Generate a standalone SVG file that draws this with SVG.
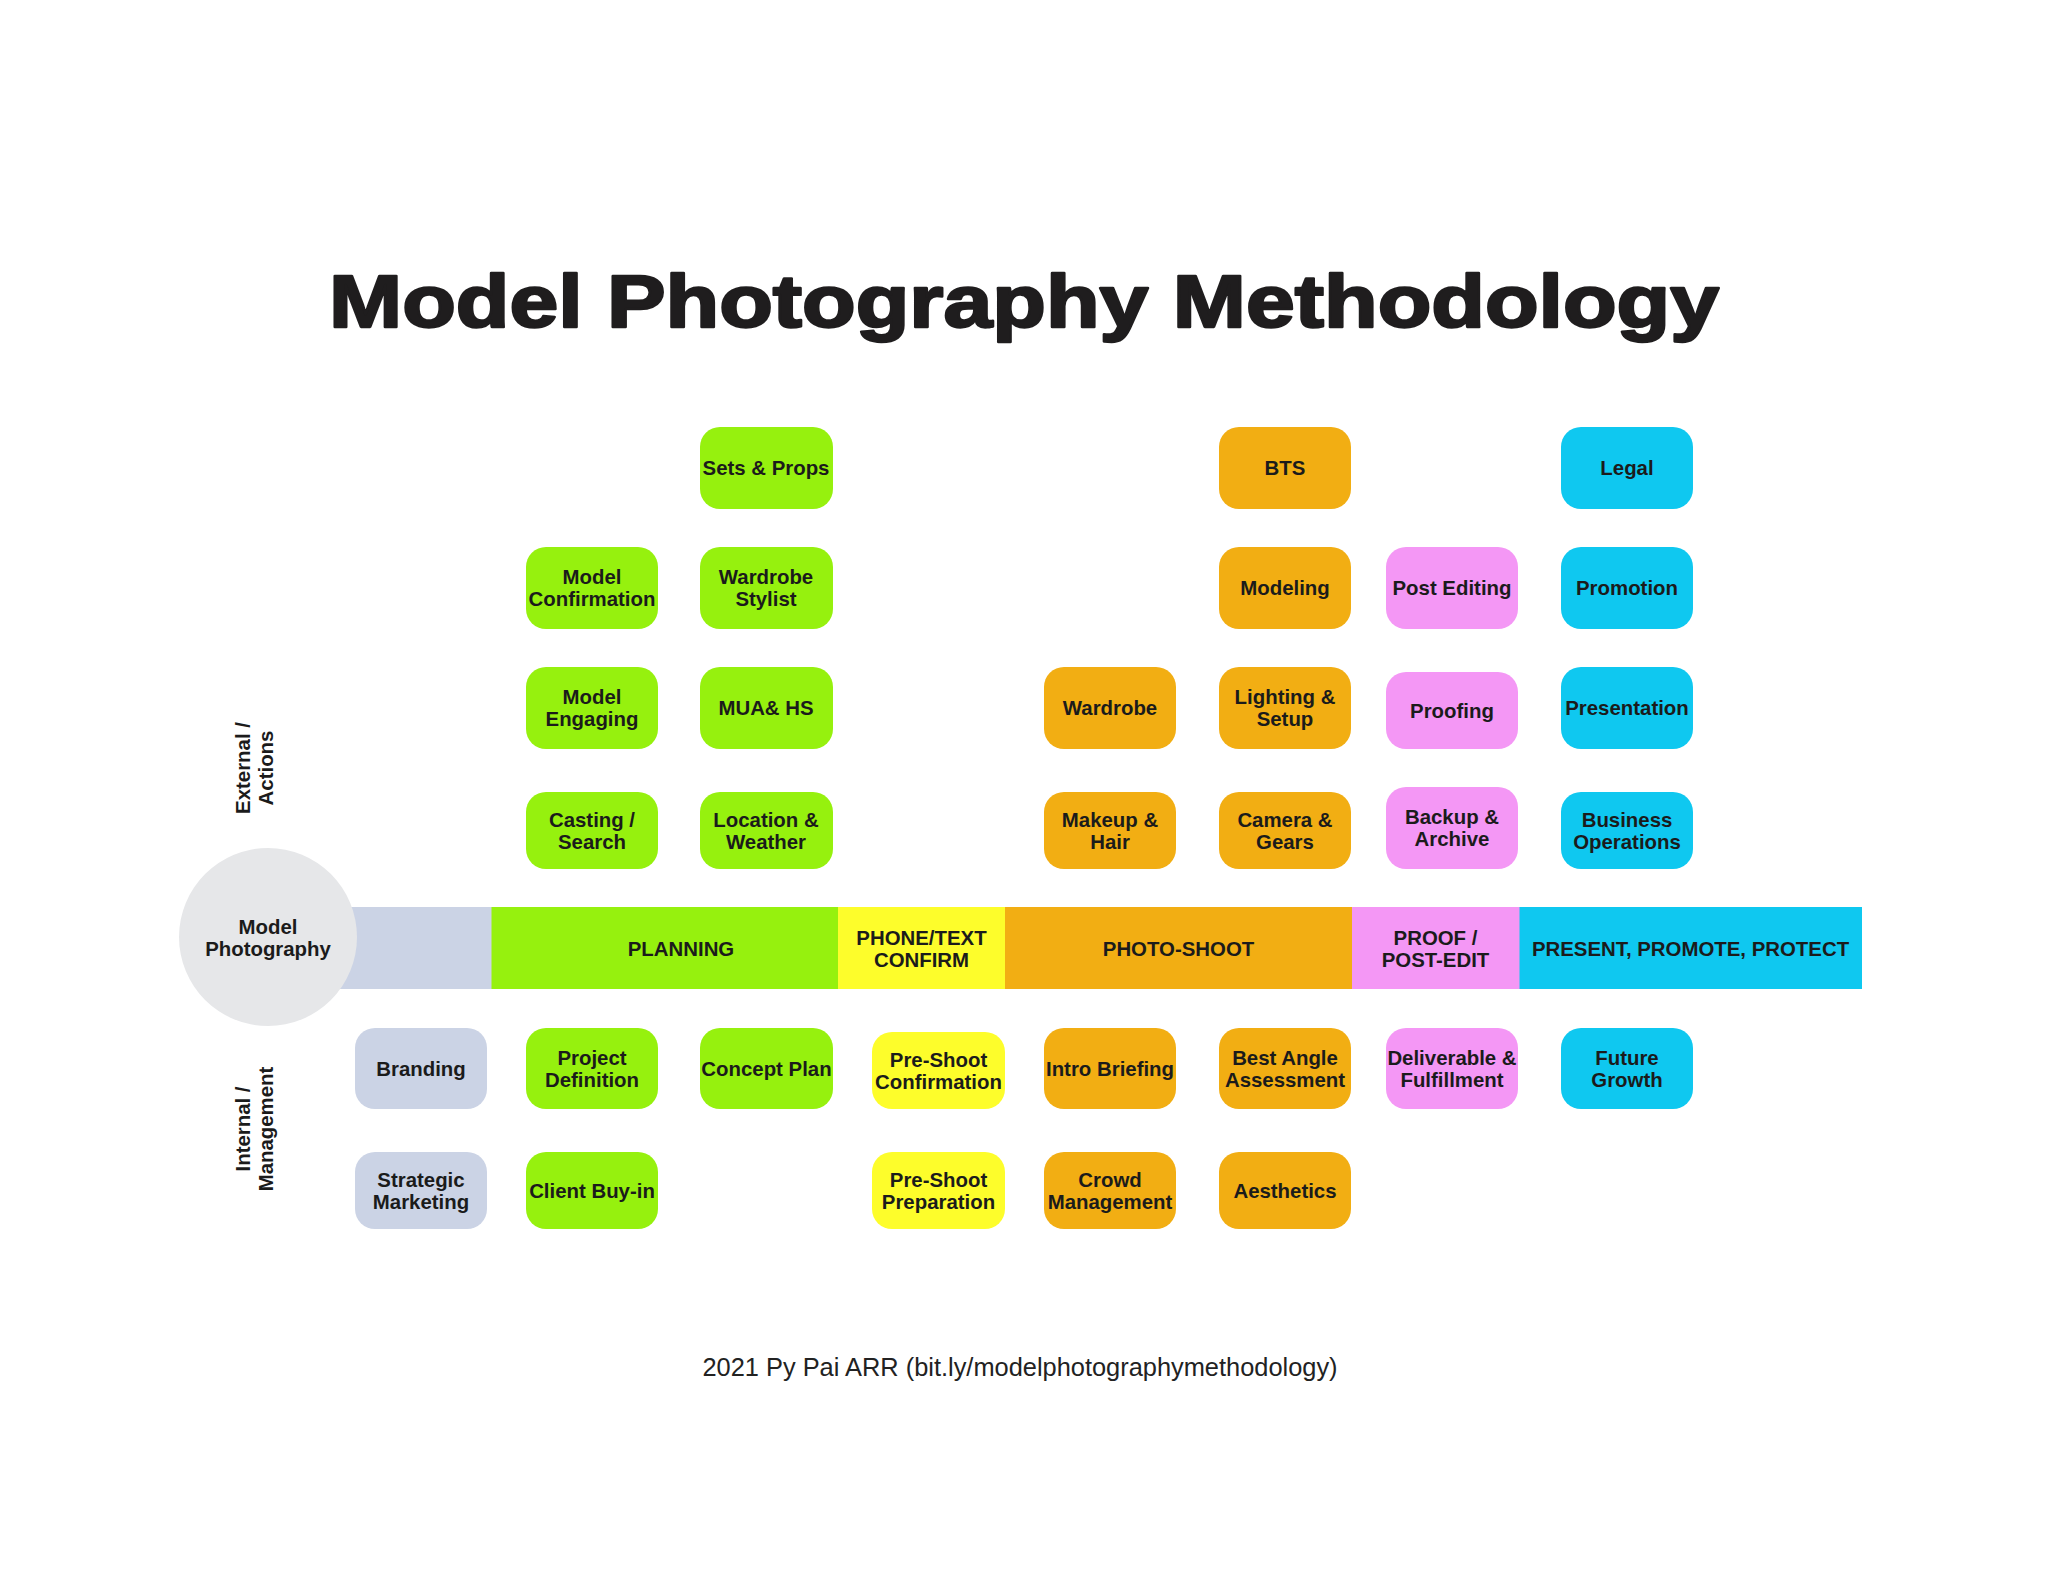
<svg xmlns="http://www.w3.org/2000/svg" width="2048" height="1583" viewBox="0 0 2048 1583">
<style>
.t{font-family:"Liberation Sans",Arial,sans-serif;font-weight:bold;font-size:20.4px;fill:#1b1b1b;text-anchor:middle}
.g{fill:#96F10E}.y{fill:#FDFD2B}.o{fill:#F2AE13}.p{fill:#F497F5}.c{fill:#0FC8F0}.s{fill:#CBD3E5}
.title{font-family:"Liberation Sans",Arial,sans-serif;font-weight:bold;font-size:75px;fill:#1f1d1e;stroke:#1f1d1e;stroke-width:2.4;stroke-linejoin:round}
.foot{font-family:"Liberation Sans",Arial,sans-serif;font-size:25.4px;fill:#222;text-anchor:middle}
</style>
<rect width="2048" height="1583" fill="#fff"/>
<text class="title" x="329" y="327" textLength="1390" lengthAdjust="spacingAndGlyphs">Model Photography Methodology</text>

<g id="spine">
<rect class="s" x="300" y="907" width="192" height="82"/>
<rect class="g" x="491.5" y="907" width="347" height="82"/>
<rect class="y" x="838" y="907" width="167.5" height="82"/>
<rect class="o" x="1005" y="907" width="347.5" height="82"/>
<rect class="p" x="1352" y="907" width="168" height="82"/>
<rect class="c" x="1519.5" y="907" width="342.5" height="82"/>
<text class="t" x="681" y="955.5">PLANNING</text>
<text class="t" y="944.5"><tspan x="921.5">PHONE/TEXT</tspan><tspan x="921.5" dy="22">CONFIRM</tspan></text>
<text class="t" x="1178.5" y="955.5">PHOTO-SHOOT</text>
<text class="t" y="944.5"><tspan x="1435.5">PROOF /</tspan><tspan x="1435.5" dy="22">POST-EDIT</tspan></text>
<text class="t" x="1690.5" y="955.5">PRESENT, PROMOTE, PROTECT</text>
</g>

<g id="hub">
<circle cx="268" cy="937" r="89" fill="#E6E7E9"/>
<text class="t" y="934"><tspan x="268">Model</tspan><tspan x="268" dy="22">Photography</tspan></text>
</g>

<g id="label-external">
<text class="t" transform="translate(250,768) rotate(-90)"><tspan x="0" y="0">External /</tspan><tspan x="0" dy="22.7">Actions</tspan></text>
</g>
<g id="label-internal">
<text class="t" transform="translate(250,1129) rotate(-90)"><tspan x="0" y="0">Internal /</tspan><tspan x="0" dy="22.7">Management</tspan></text>
</g>

<g id="connectors"></g>

<!-- Row 1 -->
<g id="sets-props"><rect class="g" x="700" y="427" width="133" height="82" rx="20"/><text class="t" x="766" y="475">Sets &amp; Props</text></g>
<g id="bts"><rect class="o" x="1219" y="427" width="132" height="82" rx="20"/><text class="t" x="1285" y="475">BTS</text></g>
<g id="legal"><rect class="c" x="1561" y="427" width="132" height="82" rx="20"/><text class="t" x="1627" y="475">Legal</text></g>

<!-- Row 2 -->
<g id="model-confirmation"><rect class="g" x="526" y="547" width="132" height="82" rx="20"/><text class="t" y="584"><tspan x="592">Model</tspan><tspan x="592" dy="22">Confirmation</tspan></text></g>
<g id="wardrobe-stylist"><rect class="g" x="700" y="547" width="133" height="82" rx="20"/><text class="t" y="584"><tspan x="766">Wardrobe</tspan><tspan x="766" dy="22">Stylist</tspan></text></g>
<g id="modeling"><rect class="o" x="1219" y="547" width="132" height="82" rx="20"/><text class="t" x="1285" y="595">Modeling</text></g>
<g id="post-editing"><rect class="p" x="1386" y="547" width="132" height="82" rx="20"/><text class="t" x="1452" y="595">Post Editing</text></g>
<g id="promotion"><rect class="c" x="1561" y="547" width="132" height="82" rx="20"/><text class="t" x="1627" y="595">Promotion</text></g>

<!-- Row 3 -->
<g id="model-engaging"><rect class="g" x="526" y="667" width="132" height="82" rx="20"/><text class="t" y="704"><tspan x="592">Model</tspan><tspan x="592" dy="22">Engaging</tspan></text></g>
<g id="mua-hs"><rect class="g" x="700" y="667" width="133" height="82" rx="20"/><text class="t" x="766" y="715">MUA&amp; HS</text></g>
<g id="wardrobe"><rect class="o" x="1044" y="667" width="132" height="82" rx="20"/><text class="t" x="1110" y="715">Wardrobe</text></g>
<g id="lighting-setup"><rect class="o" x="1219" y="667" width="132" height="82" rx="20"/><text class="t" y="704"><tspan x="1285">Lighting &amp;</tspan><tspan x="1285" dy="22">Setup</tspan></text></g>
<g id="proofing"><rect class="p" x="1386" y="672" width="132" height="77" rx="20"/><text class="t" x="1452" y="717.5">Proofing</text></g>
<g id="presentation"><rect class="c" x="1561" y="667" width="132" height="82" rx="20"/><text class="t" x="1627" y="715">Presentation</text></g>

<!-- Row 4 -->
<g id="casting-search"><rect class="g" x="526" y="792" width="132" height="77" rx="20"/><text class="t" y="826.5"><tspan x="592">Casting /</tspan><tspan x="592" dy="22">Search</tspan></text></g>
<g id="location-weather"><rect class="g" x="700" y="792" width="133" height="77" rx="20"/><text class="t" y="826.5"><tspan x="766">Location &amp;</tspan><tspan x="766" dy="22">Weather</tspan></text></g>
<g id="makeup-hair"><rect class="o" x="1044" y="792" width="132" height="77" rx="20"/><text class="t" y="826.5"><tspan x="1110">Makeup &amp;</tspan><tspan x="1110" dy="22">Hair</tspan></text></g>
<g id="camera-gears"><rect class="o" x="1219" y="792" width="132" height="77" rx="20"/><text class="t" y="826.5"><tspan x="1285">Camera &amp;</tspan><tspan x="1285" dy="22">Gears</tspan></text></g>
<g id="backup-archive"><rect class="p" x="1386" y="787" width="132" height="82" rx="20"/><text class="t" y="824"><tspan x="1452">Backup &amp;</tspan><tspan x="1452" dy="22">Archive</tspan></text></g>
<g id="business-operations"><rect class="c" x="1561" y="792" width="132" height="77" rx="20"/><text class="t" y="826.5"><tspan x="1627">Business</tspan><tspan x="1627" dy="22">Operations</tspan></text></g>

<!-- Row 5 -->
<g id="branding"><rect class="s" x="355" y="1028" width="132" height="81" rx="20"/><text class="t" x="421" y="1075.5">Branding</text></g>
<g id="project-definition"><rect class="g" x="526" y="1028" width="132" height="81" rx="20"/><text class="t" y="1064.5"><tspan x="592">Project</tspan><tspan x="592" dy="22">Definition</tspan></text></g>
<g id="concept-plan"><rect class="g" x="700" y="1028" width="133" height="81" rx="20"/><text class="t" x="766.5" y="1075.5">Concept Plan</text></g>
<g id="pre-shoot-confirmation"><rect class="y" x="872" y="1032" width="133" height="77" rx="20"/><text class="t" y="1066.5"><tspan x="938.5">Pre-Shoot</tspan><tspan x="938.5" dy="22">Confirmation</tspan></text></g>
<g id="intro-briefing"><rect class="o" x="1044" y="1028" width="132" height="81" rx="20"/><text class="t" x="1110" y="1075.5">Intro Briefing</text></g>
<g id="best-angle-assessment"><rect class="o" x="1219" y="1028" width="132" height="81" rx="20"/><text class="t" y="1064.5"><tspan x="1285">Best Angle</tspan><tspan x="1285" dy="22">Assessment</tspan></text></g>
<g id="deliverable-fulfillment"><rect class="p" x="1386" y="1028" width="132" height="81" rx="20"/><text class="t" y="1064.5"><tspan x="1452">Deliverable &amp;</tspan><tspan x="1452" dy="22">Fulfillment</tspan></text></g>
<g id="future-growth"><rect class="c" x="1561" y="1028" width="132" height="81" rx="20"/><text class="t" y="1064.5"><tspan x="1627">Future</tspan><tspan x="1627" dy="22">Growth</tspan></text></g>

<!-- Row 6 -->
<g id="strategic-marketing"><rect class="s" x="355" y="1152" width="132" height="77" rx="20"/><text class="t" y="1186.5"><tspan x="421">Strategic</tspan><tspan x="421" dy="22">Marketing</tspan></text></g>
<g id="client-buy-in"><rect class="g" x="526" y="1152" width="132" height="77" rx="20"/><text class="t" x="592" y="1197.5">Client Buy-in</text></g>
<g id="pre-shoot-preparation"><rect class="y" x="872" y="1152" width="133" height="77" rx="20"/><text class="t" y="1186.5"><tspan x="938.5">Pre-Shoot</tspan><tspan x="938.5" dy="22">Preparation</tspan></text></g>
<g id="crowd-management"><rect class="o" x="1044" y="1152" width="132" height="77" rx="20"/><text class="t" y="1186.5"><tspan x="1110">Crowd</tspan><tspan x="1110" dy="22">Management</tspan></text></g>
<g id="aesthetics"><rect class="o" x="1219" y="1152" width="132" height="77" rx="20"/><text class="t" x="1285" y="1197.5">Aesthetics</text></g>

<text class="foot" x="1020" y="1376">2021 Py Pai ARR (bit.ly/modelphotographymethodology)</text>
</svg>
